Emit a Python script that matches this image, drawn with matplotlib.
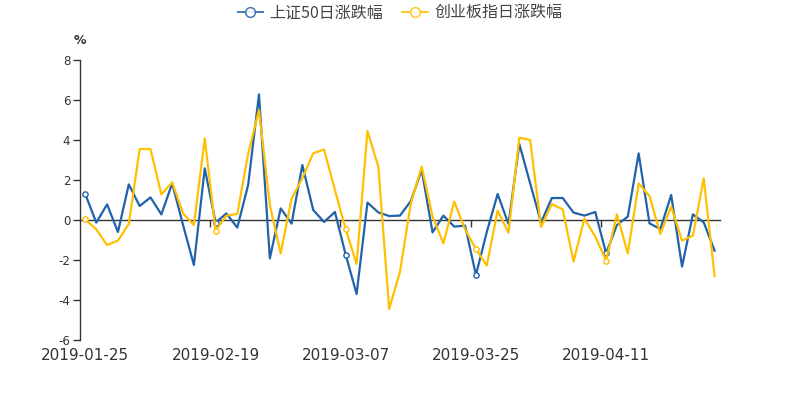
import matplotlib
matplotlib.use("Agg")
import matplotlib.pyplot as plt
from matplotlib.lines import Line2D
import numpy as np

dates = ["2019-01-25", "2019-01-28", "2019-01-29", "2019-01-30", "2019-01-31", "2019-02-01",
         "2019-02-11", "2019-02-12", "2019-02-13", "2019-02-14", "2019-02-15", "2019-02-18",
         "2019-02-19", "2019-02-20", "2019-02-21", "2019-02-22", "2019-02-25", "2019-02-26",
         "2019-02-27", "2019-02-28", "2019-03-01", "2019-03-04", "2019-03-05", "2019-03-06",
         "2019-03-07", "2019-03-08", "2019-03-11", "2019-03-12", "2019-03-13", "2019-03-14",
         "2019-03-15", "2019-03-18", "2019-03-19", "2019-03-20", "2019-03-21", "2019-03-22",
         "2019-03-25", "2019-03-26", "2019-03-27", "2019-03-28", "2019-03-29", "2019-04-01",
         "2019-04-02", "2019-04-03", "2019-04-04", "2019-04-08", "2019-04-09", "2019-04-10",
         "2019-04-11", "2019-04-12", "2019-04-15", "2019-04-16", "2019-04-17", "2019-04-18",
         "2019-04-19", "2019-04-22", "2019-04-23", "2019-04-24", "2019-04-25"]

sz50 = [1.28, -0.13, 0.78, -0.6, 1.78, 0.7, 1.13, 0.28, 1.83, -0.25,
        -2.25, 2.58, -0.13, 0.33, -0.38, 1.75, 6.28, -1.92, 0.58, -0.18,
        2.75, 0.5, -0.1, 0.4, -1.75, -3.7, 0.87, 0.38, 0.2, 0.22,
        0.95, 2.5, -0.62, 0.22, -0.33, -0.28, -2.75, -0.6, 1.3, -0.2,
        3.8, 1.83, -0.12, 1.1, 1.1, 0.37, 0.22, 0.4, -1.67, -0.25,
        0.17, 3.33, -0.17, -0.45, 1.25, -2.33, 0.28, -0.12, -1.53]

cyb = [0.03, -0.47, -1.25, -1.03, -0.2, 3.55, 3.55, 1.28, 1.88, 0.33,
       -0.25, 4.08, -0.53, 0.22, 0.3, 3.3, 5.5, 0.75, -1.67, 1.05,
       2.1, 3.33, 3.53, 1.5, -0.47, -2.2, 4.45, 2.67, -4.45, -2.58,
       0.83, 2.67, 0.17, -1.17, 0.92, -0.47, -1.45, -2.28, 0.47, -0.63,
       4.12, 4.0, -0.35, 0.8, 0.53, -2.08, 0.08, -0.83, -2.03, 0.28,
       -1.67, 1.83, 1.2, -0.7, 0.67, -1.03, -0.78, 2.08, -2.8]

series_names = ["上证50日涨跌幅", "创业板指日涨跌幅"]
y_ticks = [-6, -4, -2, 0, 2, 4, 6, 8]
label_interval = 12

BLUE = "#2163AB"
YELLOW = "#FFC000"
AXIS = "#333333"

fig = plt.figure(figsize=(8, 4), dpi=100)
ax = fig.add_axes([0.1, 0.15, 0.8, 0.70])

x = np.arange(len(dates))
marks = list(range(0, len(dates), label_interval))
for vals, col in ((sz50, BLUE), (cyb, YELLOW)):
    ax.plot(x, vals, color=col, lw=1.6, marker="o", markevery=marks,
            markersize=3.8, markerfacecolor="white", markeredgecolor=col,
            markeredgewidth=1.0, zorder=3)

ax.set_xlim(-0.5, len(dates) - 0.5)
ax.set_ylim(y_ticks[0], y_ticks[-1])
ax.set_yticks(y_ticks)
ax.set_yticklabels([str(v) for v in y_ticks])
ax.tick_params(axis="y", length=5, width=1, color=AXIS, labelsize=8.5,
               labelcolor=AXIS, pad=2)

for s in ("top", "right", "bottom"):
    ax.spines[s].set_visible(False)
ax.spines["left"].set_color(AXIS)
ax.spines["left"].set_linewidth(1)

ax.set_xticks(marks)
ax.set_xticklabels([dates[i] for i in marks])
ax.tick_params(axis="x", length=0, labelsize=11, labelcolor=AXIS, pad=6)

# zero axis line with band-boundary ticks
sec = ax.secondary_xaxis(0, transform=ax.transData)
sec.spines["bottom"].set_color(AXIS)
sec.spines["bottom"].set_linewidth(1)
sec.set_xticks([m - 0.5 for m in marks[1:]])
sec.set_xticklabels([])
sec.tick_params(axis="x", length=5, width=1, color=AXIS)

ax.text(0.0, 1.045, "%", transform=ax.transAxes, ha="center", va="bottom",
        fontsize=9, color=AXIS, fontweight="semibold")

handles = [Line2D([0], [0], color=c, lw=1.4, alpha=0.85, marker="o", markersize=7,
                  markerfacecolor="white", markeredgecolor=c, markeredgewidth=1.1)
           for c in (BLUE, YELLOW)]
leg = fig.legend(handles, series_names, loc="upper center", bbox_to_anchor=(0.5, 1.025),
                 ncol=2, frameon=False, handlelength=1.6, handletextpad=0.4,
                 columnspacing=1.2, prop={"family": ["Noto Sans CJK SC", "DejaVu Sans"], "size": 11.5})
for t in leg.get_texts():
    t.set_color("#444444")

fig.savefig("out.png", dpi=100)
